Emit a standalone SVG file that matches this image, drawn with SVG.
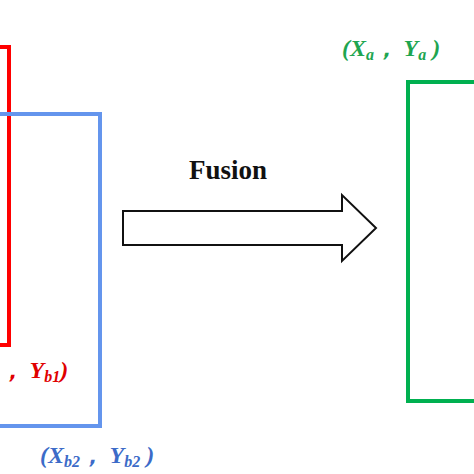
<svg xmlns="http://www.w3.org/2000/svg" width="474" height="474" viewBox="0 0 474 474">
<style>
.lbl{font-family:"Liberation Serif","Times New Roman",serif;font-style:italic;font-weight:bold;font-size:24px}
.sub{font-size:16px}
</style>
<rect width="474" height="474" fill="#fff"/>
<g id="box-b1"><rect x="-60" y="47" width="69" height="298" fill="none" stroke="#FF0000" stroke-width="4"/>
<text class="lbl" x="0" y="378" fill="#E00000">， Y<tspan class="sub" dy="4">b1</tspan><tspan dy="-4">)</tspan></text></g>
<g id="box-b2"><rect x="-40" y="114" width="140" height="312" fill="none" stroke="#6495ED" stroke-width="4"/>
<text class="lbl" x="40" y="463" fill="#3C6BC8">(X<tspan class="sub" dy="4">b2</tspan><tspan dy="-4">， Y</tspan><tspan class="sub" dy="4">b2</tspan><tspan dy="-4"> )</tspan></text></g>
<g id="box-a"><rect x="408" y="82" width="100" height="319" fill="none" stroke="#00B050" stroke-width="4"/>
<text class="lbl" x="342" y="56" fill="#1EA550">(X<tspan class="sub" dy="4">a</tspan><tspan dy="-4">， Y</tspan><tspan class="sub" dy="4">a</tspan><tspan dy="-4"> )</tspan></text></g>
<g id="connectors">
<polygon points="123,211 342,211 342,195 376,228 342,261 342,245 123,245" fill="#fff" stroke="#111" stroke-width="2"/>
<text x="228" y="179" text-anchor="middle" font-family="Liberation Serif,serif" font-weight="bold" font-size="27" fill="#111">Fusion</text>
</g>
</svg>
